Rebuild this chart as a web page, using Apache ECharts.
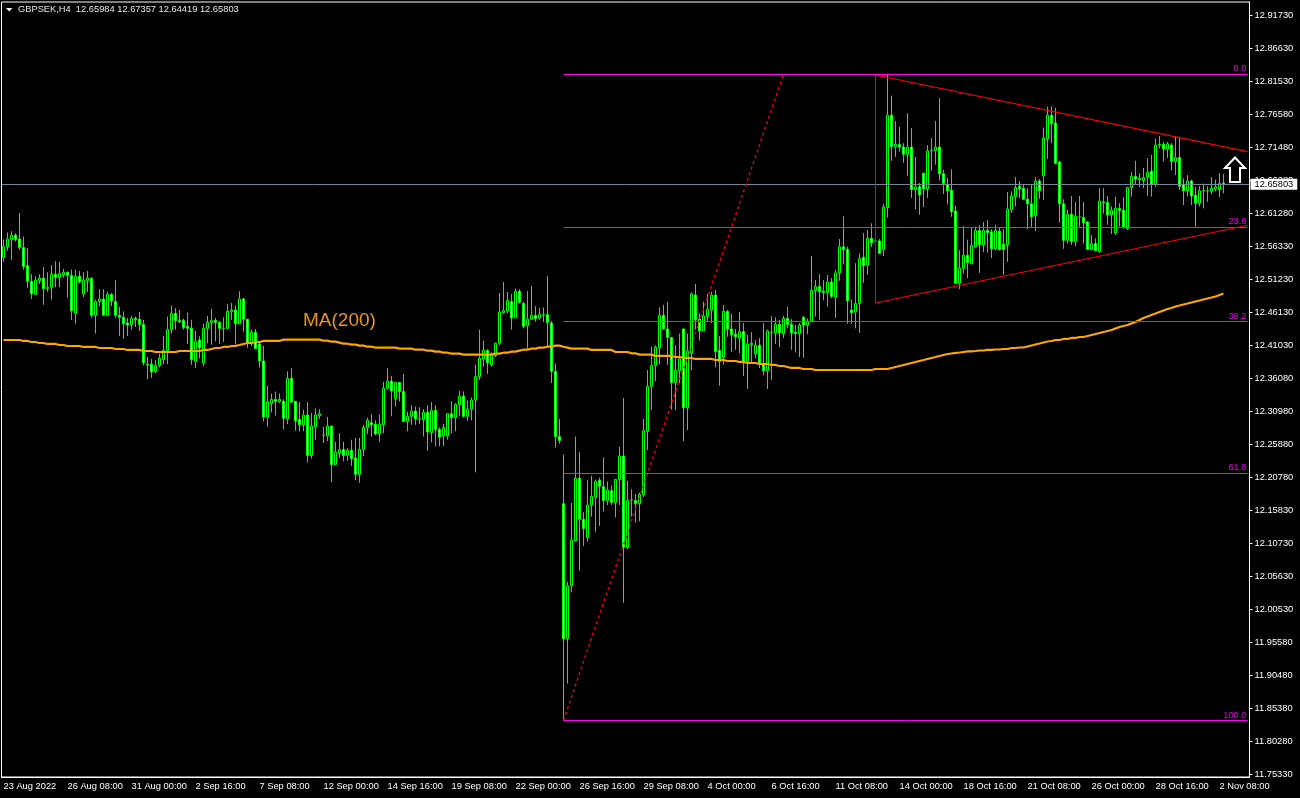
<!DOCTYPE html>
<html><head><meta charset="utf-8">
<style>html,body{margin:0;padding:0;background:#000}#c{width:1300px;height:798px}</style>
<script src="https://cdn.jsdelivr.net/npm/echarts@6/dist/echarts.min.js"></script>
</head><body><div id="c"></div>
<script>
const tickLabelsX=["23 Aug 2022","26 Aug 08:00","31 Aug 00:00","2 Sep 16:00","7 Sep 08:00","12 Sep 00:00","14 Sep 16:00","19 Sep 08:00","22 Sep 00:00","26 Sep 16:00","29 Sep 08:00","4 Oct 00:00","6 Oct 16:00","11 Oct 08:00","14 Oct 00:00","18 Oct 16:00","21 Oct 08:00","26 Oct 00:00","28 Oct 16:00","2 Nov 08:00"];
const tickValuesY=[12.9173,12.8663,12.8153,12.7658,12.7148,12.6638,12.6128,12.5633,12.5123,12.4613,12.4103,12.3608,12.3098,12.2588,12.2078,12.1583,12.1073,12.0563,12.0053,11.9558,11.9048,11.8538,11.8028,11.7533];
const opens=[
12.546,12.562,12.573,12.580,12.574,12.561,12.533,12.509,12.489,12.510,
12.514,12.498,12.500,12.520,12.515,12.519,12.523,12.518,12.460,12.517,
12.490,12.510,12.514,12.457,12.478,12.482,12.457,12.489,12.478,12.457,
12.454,12.445,12.443,12.452,12.451,12.443,12.382,12.382,12.371,12.380,
12.389,12.403,12.435,12.460,12.449,12.449,12.440,12.437,12.386,12.419,
12.384,12.437,12.446,12.449,12.446,12.437,12.437,12.463,12.465,12.444,
12.482,12.451,12.413,12.431,12.413,12.387,12.301,12.322,12.328,12.325,
12.325,12.298,12.360,12.325,12.297,12.289,12.304,12.242,12.286,12.303,
12.273,12.272,12.287,12.228,12.246,12.251,12.242,12.250,12.238,12.213,
12.251,12.285,12.292,12.290,12.275,12.289,12.345,12.356,12.329,12.354,
12.340,12.294,12.302,12.310,12.298,12.297,12.308,12.277,12.311,12.282,
12.272,12.272,12.306,12.300,12.320,12.333,12.302,12.313,12.327,12.363,
12.390,12.403,12.381,12.395,12.414,12.461,12.464,12.478,12.453,12.494,
12.475,12.441,12.451,12.457,12.453,12.458,12.458,12.445,12.371,12.271,
12.168,11.961,12.042,12.111,12.207,12.144,12.116,12.166,12.178,12.204,
12.194,12.173,12.188,12.170,12.205,12.241,12.101,12.174,12.173,12.168,
12.182,12.279,12.348,12.380,12.407,12.457,12.436,12.423,12.354,12.372,
12.436,12.315,12.399,12.488,12.451,12.433,12.455,12.465,12.488,12.403,
12.392,12.463,12.436,12.428,12.422,12.432,12.386,12.412,12.398,12.411,
12.383,12.372,12.431,12.430,12.443,12.429,12.452,12.443,12.431,12.429,
12.454,12.442,12.448,12.495,12.501,12.494,12.492,12.508,12.485,12.522,
12.562,12.558,12.465,12.462,12.475,12.546,12.534,12.575,12.571,12.571,
12.558,12.622,12.764,12.716,12.719,12.715,12.704,12.715,12.650,12.654,
12.675,12.651,12.710,12.710,12.715,12.674,12.657,12.649,12.617,12.506,
12.529,12.549,12.536,12.562,12.587,12.565,12.587,12.585,12.559,12.586,
12.566,12.565,12.619,12.639,12.655,12.652,12.635,12.628,12.610,12.663,
12.671,12.728,12.764,12.752,12.692,12.628,12.572,12.612,12.570,12.608,
12.607,12.600,12.558,12.567,12.555,12.630,12.630,12.611,12.583,12.621,
12.618,12.590,12.653,12.670,12.665,12.664,12.669,12.678,12.658,12.718,
12.719,12.712,12.718,12.693,12.699,12.657,12.648,12.663,12.641,12.629,
12.648,12.648,12.647,12.651,12.650,12.65984];
const closes=[
12.562,12.574,12.580,12.573,12.561,12.532,12.509,12.490,12.511,12.514,
12.498,12.500,12.520,12.515,12.521,12.523,12.518,12.464,12.517,12.508,
12.511,12.514,12.457,12.478,12.482,12.457,12.489,12.479,12.457,12.454,
12.444,12.442,12.452,12.450,12.443,12.384,12.381,12.370,12.380,12.391,
12.403,12.435,12.460,12.449,12.447,12.438,12.437,12.389,12.417,12.407,
12.437,12.446,12.449,12.446,12.437,12.437,12.463,12.465,12.444,12.482,
12.451,12.415,12.431,12.406,12.387,12.301,12.324,12.328,12.325,12.328,
12.299,12.360,12.324,12.295,12.289,12.304,12.242,12.287,12.304,12.306,
12.273,12.287,12.228,12.247,12.251,12.242,12.250,12.237,12.213,12.251,
12.285,12.296,12.289,12.275,12.290,12.345,12.356,12.341,12.354,12.340,
12.294,12.302,12.310,12.298,12.298,12.308,12.278,12.311,12.282,12.270,
12.285,12.306,12.300,12.320,12.333,12.302,12.313,12.327,12.363,12.391,
12.403,12.384,12.396,12.414,12.462,12.464,12.480,12.453,12.494,12.477,
12.440,12.451,12.457,12.452,12.458,12.458,12.446,12.371,12.271,12.265,
11.961,12.042,12.112,12.207,12.144,12.130,12.166,12.179,12.202,12.195,
12.173,12.189,12.170,12.205,12.241,12.101,12.173,12.174,12.168,12.182,
12.280,12.348,12.380,12.408,12.457,12.436,12.423,12.354,12.373,12.390,
12.315,12.402,12.490,12.450,12.433,12.456,12.466,12.488,12.401,12.386,
12.463,12.436,12.427,12.424,12.432,12.386,12.413,12.414,12.411,12.384,
12.372,12.433,12.431,12.443,12.430,12.452,12.443,12.430,12.429,12.442,
12.442,12.448,12.495,12.501,12.493,12.492,12.508,12.486,12.522,12.562,
12.558,12.479,12.461,12.475,12.544,12.533,12.575,12.568,12.571,12.552,
12.623,12.764,12.716,12.719,12.715,12.704,12.715,12.650,12.654,12.642,
12.651,12.709,12.710,12.715,12.674,12.659,12.648,12.616,12.506,12.529,
12.549,12.538,12.564,12.587,12.565,12.587,12.584,12.559,12.587,12.558,
12.558,12.620,12.640,12.653,12.651,12.635,12.628,12.608,12.663,12.648,
12.729,12.764,12.751,12.690,12.628,12.572,12.612,12.570,12.609,12.608,
12.599,12.558,12.567,12.556,12.632,12.631,12.611,12.618,12.621,12.618,
12.592,12.653,12.670,12.666,12.667,12.668,12.676,12.658,12.718,12.719,
12.712,12.720,12.693,12.699,12.655,12.648,12.663,12.640,12.629,12.648,
12.648,12.648,12.652,12.654,12.659,12.65803];
const lows=[
12.539,12.556,12.542,12.570,12.557,12.527,12.499,12.482,12.489,12.505,
12.473,12.493,12.481,12.500,12.500,12.515,12.484,12.450,12.444,12.506,
12.485,12.493,12.453,12.429,12.471,12.457,12.457,12.471,12.453,12.425,
12.421,12.425,12.435,12.439,12.433,12.380,12.359,12.361,12.368,12.377,
12.382,12.382,12.429,12.435,12.445,12.435,12.413,12.381,12.376,12.391,
12.379,12.414,12.412,12.417,12.413,12.416,12.435,12.450,12.412,12.444,
12.432,12.407,12.410,12.405,12.377,12.294,12.286,12.308,12.303,12.322,
12.282,12.290,12.322,12.280,12.279,12.279,12.231,12.237,12.266,12.298,
12.261,12.264,12.201,12.228,12.238,12.233,12.234,12.226,12.204,12.200,
12.241,12.275,12.271,12.273,12.263,12.276,12.343,12.302,12.317,12.325,
12.294,12.279,12.289,12.289,12.290,12.271,12.249,12.262,12.256,12.256,
12.256,12.266,12.276,12.279,12.302,12.300,12.295,12.296,12.216,12.358,
12.378,12.367,12.378,12.393,12.411,12.460,12.460,12.435,12.453,12.475,
12.437,12.406,12.450,12.447,12.450,12.447,12.409,12.353,12.254,12.260,
11.835,11.892,12.032,12.110,12.065,12.103,12.110,12.148,12.125,12.134,
12.156,12.166,12.166,12.147,12.166,12.016,12.098,12.148,12.139,12.141,
12.178,12.250,12.312,12.356,12.382,12.436,12.381,12.312,12.312,12.353,
12.264,12.281,12.373,12.435,12.418,12.433,12.447,12.445,12.377,12.349,
12.381,12.424,12.401,12.404,12.399,12.364,12.344,12.383,12.391,12.376,
12.365,12.344,12.358,12.413,12.408,12.422,12.437,12.404,12.400,12.393,
12.392,12.428,12.447,12.455,12.450,12.480,12.470,12.483,12.453,12.510,
12.535,12.444,12.444,12.437,12.430,12.507,12.519,12.562,12.568,12.552,
12.548,12.607,12.694,12.700,12.708,12.691,12.671,12.637,12.619,12.611,
12.623,12.637,12.679,12.688,12.664,12.643,12.627,12.608,12.505,12.497,
12.521,12.514,12.536,12.561,12.522,12.554,12.553,12.545,12.557,12.556,
12.519,12.539,12.614,12.624,12.637,12.634,12.589,12.592,12.586,12.636,
12.634,12.697,12.721,12.689,12.599,12.559,12.567,12.565,12.563,12.593,
12.567,12.557,12.557,12.556,12.553,12.613,12.596,12.582,12.580,12.593,
12.590,12.588,12.639,12.657,12.654,12.652,12.640,12.639,12.654,12.713,
12.693,12.698,12.679,12.672,12.649,12.626,12.639,12.626,12.593,12.624,
12.621,12.631,12.643,12.647,12.638,12.64419];
const highs=[
12.573,12.584,12.586,12.583,12.614,12.578,12.560,12.520,12.517,12.520,
12.531,12.523,12.534,12.540,12.539,12.528,12.524,12.527,12.527,12.525,
12.523,12.525,12.515,12.481,12.497,12.497,12.493,12.491,12.511,12.470,
12.463,12.453,12.456,12.455,12.462,12.450,12.393,12.390,12.388,12.398,
12.425,12.455,12.472,12.468,12.465,12.452,12.461,12.450,12.433,12.425,
12.444,12.456,12.467,12.453,12.448,12.454,12.474,12.476,12.472,12.494,
12.484,12.451,12.435,12.436,12.417,12.410,12.349,12.337,12.340,12.337,
12.328,12.371,12.376,12.325,12.324,12.312,12.324,12.307,12.314,12.313,
12.286,12.301,12.287,12.263,12.276,12.263,12.253,12.266,12.269,12.269,
12.289,12.300,12.305,12.296,12.305,12.355,12.376,12.364,12.355,12.355,
12.367,12.309,12.319,12.317,12.316,12.313,12.319,12.324,12.319,12.285,
12.290,12.307,12.325,12.322,12.341,12.340,12.326,12.331,12.381,12.435,
12.418,12.405,12.400,12.415,12.491,12.508,12.493,12.490,12.498,12.497,
12.478,12.494,12.502,12.471,12.468,12.469,12.517,12.448,12.383,12.298,
12.243,12.048,12.169,12.271,12.247,12.155,12.204,12.211,12.205,12.208,
12.239,12.202,12.196,12.205,12.255,12.330,12.203,12.190,12.183,12.185,
12.298,12.373,12.409,12.411,12.469,12.473,12.477,12.423,12.411,12.429,
12.436,12.429,12.492,12.505,12.460,12.478,12.490,12.493,12.496,12.425,
12.473,12.465,12.459,12.436,12.462,12.445,12.427,12.431,12.419,12.422,
12.445,12.435,12.456,12.454,12.450,12.456,12.470,12.451,12.442,12.445,
12.456,12.452,12.548,12.511,12.520,12.511,12.519,12.514,12.527,12.574,
12.609,12.562,12.481,12.537,12.552,12.583,12.588,12.598,12.573,12.574,
12.628,12.826,12.794,12.755,12.746,12.721,12.767,12.744,12.700,12.660,
12.675,12.718,12.729,12.755,12.790,12.680,12.668,12.681,12.625,12.557,
12.594,12.573,12.591,12.593,12.595,12.600,12.603,12.589,12.596,12.592,
12.589,12.646,12.647,12.669,12.663,12.657,12.652,12.657,12.669,12.666,
12.745,12.777,12.778,12.775,12.694,12.635,12.619,12.640,12.631,12.640,
12.631,12.601,12.580,12.575,12.652,12.652,12.640,12.624,12.639,12.629,
12.638,12.654,12.677,12.694,12.675,12.683,12.698,12.703,12.728,12.732,
12.723,12.723,12.721,12.732,12.731,12.667,12.672,12.665,12.654,12.655,
12.659,12.655,12.669,12.665,12.675,12.67357];
const ma200=[
12.4191,12.4191,12.4191,12.4191,12.4191,12.4176,12.4176,12.4160,12.4160,12.4145,
12.4145,12.4130,12.4130,12.4130,12.4114,12.4114,12.4099,12.4099,12.4099,12.4099,
12.4084,12.4084,12.4084,12.4084,12.4068,12.4068,12.4068,12.4068,12.4053,12.4053,
12.4053,12.4038,12.4038,12.4038,12.4038,12.4022,12.4022,12.4022,12.4007,12.4007,
12.4007,12.4007,12.4007,12.4007,12.4022,12.4022,12.4022,12.4022,12.4022,12.4022,
12.4038,12.4038,12.4053,12.4068,12.4068,12.4084,12.4084,12.4099,12.4099,12.4114,
12.4130,12.4145,12.4145,12.4160,12.4160,12.4176,12.4176,12.4176,12.4176,12.4176,
12.4196,12.4196,12.4196,12.4196,12.4196,12.4196,12.4196,12.4196,12.4196,12.4196,
12.4180,12.4180,12.4165,12.4165,12.4150,12.4134,12.4134,12.4119,12.4119,12.4104,
12.4104,12.4088,12.4088,12.4073,12.4073,12.4073,12.4073,12.4073,12.4073,12.4058,
12.4058,12.4058,12.4058,12.4042,12.4042,12.4042,12.4027,12.4027,12.4012,12.4012,
12.3996,12.3996,12.3981,12.3981,12.3981,12.3966,12.3966,12.3966,12.3966,12.3966,
12.3966,12.3966,12.3966,12.3981,12.3981,12.3996,12.3996,12.4012,12.4012,12.4027,
12.4042,12.4042,12.4058,12.4058,12.4073,12.4073,12.4088,12.4088,12.4104,12.4104,
12.4088,12.4073,12.4058,12.4058,12.4058,12.4058,12.4058,12.4038,12.4038,12.4038,
12.4038,12.4038,12.4038,12.4007,12.4007,12.4007,12.4007,12.3987,12.3987,12.3966,
12.3966,12.3966,12.3966,12.3946,12.3946,12.3946,12.3946,12.3946,12.3930,12.3930,
12.3915,12.3915,12.3915,12.3900,12.3900,12.3900,12.3900,12.3900,12.3884,12.3884,
12.3884,12.3869,12.3869,12.3869,12.3854,12.3854,12.3838,12.3838,12.3838,12.3823,
12.3823,12.3823,12.3808,12.3808,12.3792,12.3792,12.3777,12.3762,12.3762,12.3762,
12.3746,12.3746,12.3746,12.3731,12.3731,12.3731,12.3731,12.3731,12.3731,12.3731,
12.3731,12.3731,12.3731,12.3731,12.3731,12.3731,12.3731,12.3731,12.3746,12.3746,
12.3746,12.3746,12.3762,12.3777,12.3792,12.3808,12.3823,12.3838,12.3854,12.3869,
12.3884,12.3900,12.3915,12.3930,12.3946,12.3961,12.3976,12.3984,12.3992,12.3999,
12.4007,12.4015,12.4015,12.4022,12.4030,12.4030,12.4038,12.4038,12.4045,12.4045,
12.4053,12.4053,12.4068,12.4068,12.4076,12.4076,12.4091,12.4107,12.4122,12.4137,
12.4153,12.4168,12.4176,12.4191,12.4191,12.4207,12.4207,12.4222,12.4222,12.4237,
12.4237,12.4253,12.4268,12.4283,12.4298,12.4314,12.4329,12.4344,12.4368,12.4391,
12.4406,12.4421,12.4444,12.4467,12.4498,12.4529,12.4552,12.4575,12.4598,12.4621,
12.4644,12.4667,12.4682,12.4705,12.4720,12.4736,12.4751,12.4766,12.4782,12.4797,
12.4813,12.4828,12.4843,12.4859,12.4881,12.4904];
const fibLevels=[["0.0",12.8266],["23.6",12.5919],["38.2",12.4473],["61.8",12.2145],["100.0",11.8354]];
const lastPrice=12.65803;
const slotCount=312, tickEvery=16, fibStart=140, trendTop=195, triStart=218;
const triangleTop=[12.8256,12.7080], triangleBottom=[12.4759,12.5951];

const categories=[];
for(let i=0;i<slotCount;i++) categories.push(i%tickEvery===0?(tickLabelsX[i/tickEvery]||''):'');
const candles=opens.map((o,i)=>[o,closes[i],lows[i],highs[i]]);
const FONT='"Liberation Sans", Arial, sans-serif', LAST=slotCount-1, MAG='#ff00ff', SIZE=9.3;
const red={color:'#ff0000',width:1.2,type:'solid'};
const seg=(a,va,b,vb,style)=>[{coord:[a,va],lineStyle:style,label:{show:false}},{coord:[b,vb]}];
const marks=[
  {yAxis:lastPrice,lineStyle:{color:'#778899',width:1,type:'solid'},
   label:{show:true,position:'end',formatter:lastPrice.toFixed(5),color:'#000',backgroundColor:'#fff',
          fontFamily:FONT,fontSize:SIZE,padding:[1,4,1,4],distance:1}},
  ...fibLevels.map(([t,v])=>[{coord:[fibStart,v],lineStyle:{color:MAG,width:1,type:'solid'},
      label:{show:true,position:'insideEndTop',formatter:t,color:'#e000e8',fontFamily:FONT,fontSize:SIZE,distance:1,padding:0}},{coord:[LAST,v]}]),
  seg(fibStart,11.8354,trendTop,12.8266,{color:'#ff0000',width:1.3,type:[3,3]}),
  seg(triStart,triangleTop[0],LAST,triangleTop[1],red),
  seg(triStart,triangleBottom[0],LAST,triangleBottom[1],red),
  seg(triStart,triangleTop[0],triStart,triangleBottom[0],{color:'#ff0000',width:1,type:'solid'})
];
const chart=echarts.init(document.getElementById('c'));
chart.setOption({
  animation:false,backgroundColor:'#000',
  title:{text:'GBPSEK,H4  12.65984 12.67357 12.64419 12.65803',left:13,top:0,
    textStyle:{color:'#e8e8e8',fontFamily:FONT,fontSize:SIZE,fontWeight:'normal'}},
  grid:{left:1.5,right:50.5,top:2,bottom:21,show:true,borderColor:'#fff',borderWidth:1,backgroundColor:'#000'},
  xAxis:{type:'category',data:categories,boundaryGap:true,
    axisLine:{lineStyle:{color:'#fff',width:1}},
    axisTick:{alignWithLabel:true,interval:tickEvery-1,length:3,lineStyle:{color:'#fff'}},
    axisLabel:{interval:tickEvery-1,color:'#fff',fontFamily:FONT,fontSize:SIZE,align:'left',margin:5,showMinLabel:true,hideOverlap:false},
    splitLine:{show:false}},
  yAxis:{type:'value',position:'right',min:11.7487,max:12.9376,scale:true,
    axisLine:{show:true,lineStyle:{color:'#fff',width:1}},
    axisTick:{show:true,length:3,lineStyle:{color:'#fff'},customValues:tickValuesY},
    axisLabel:{color:'#fff',fontFamily:FONT,fontSize:SIZE,margin:5,padding:[2,0,0,0],customValues:tickValuesY,formatter:v=>v.toFixed(5),showMinLabel:true,showMaxLabel:true},
    splitLine:{show:false}},
  series:[
    {type:'candlestick',data:candles,barWidth:2,progressive:0,large:false,silent:true,
     itemStyle:{color:'#000',color0:'#fff',borderColor:'#00ff00',borderColor0:'#00ff00',borderColorDoji:'#00ff00',borderWidth:1},
     markLine:{silent:true,symbol:'none',animation:false,precision:5,data:marks}},
    {type:'line',data:ma200,showSymbol:false,silent:true,step:false,z:3,lineStyle:{color:'#ffa500',width:2.2}}
  ],
  graphic:[
    {type:'polygon',shape:{points:[[6,8],[12.5,8],[9.2,11.5]]},style:{fill:'#fff'},z:10},
    {type:'text',left:303,top:311,style:{text:'MA(200)',fill:'#e8951e',font:'19px "Liberation Sans", Arial, sans-serif'},z:10},
    {type:'polygon',shape:{points:[[1235,157.5],[1245,168],[1240,168],[1240,182],[1230,182],[1230,168],[1225,168]]},
     style:{fill:'#000',stroke:'#fff',lineWidth:2},z:10}
  ]
});
</script></body></html>
